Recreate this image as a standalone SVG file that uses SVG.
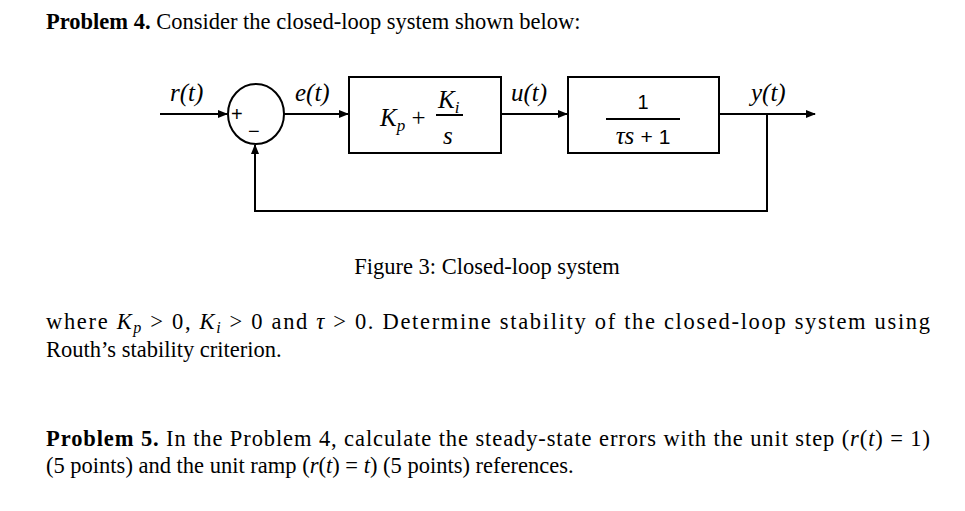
<svg xmlns="http://www.w3.org/2000/svg" width="965" height="511" viewBox="0 0 965 511">
<style>
.t{font-family:"Liberation Serif",serif;font-size:22.5px;fill:#000}
.b{font-weight:bold}
.m{font-family:"Liberation Serif",serif;font-style:italic;font-size:25px}
.n{font-family:"Liberation Sans",sans-serif;font-size:20px}
.ln{stroke:#000;stroke-width:2;fill:none}
</style>
<defs><marker id="a" markerWidth="10" markerHeight="8" refX="9" refY="4" orient="auto" markerUnits="userSpaceOnUse"><path d="M0,0L10,4L0,8z"/></marker></defs>
<rect width="965" height="511" fill="#fff"/>
<text class="t" x="46" y="29"><tspan class="b">Problem 4.</tspan> Consider the closed-loop system shown below:</text>
<g id="sum"><ellipse class="ln" cx="256" cy="114" rx="28" ry="30"/><text x="231" y="121" class="n" font-size="18">+</text><text x="248" y="138" class="n" font-size="18">−</text></g>
<g id="pi"><rect class="ln" x="349" y="77" width="152" height="76"/><text class="m" x="380" y="126">K<tspan font-size="17" dy="5">p</tspan><tspan dy="-5" font-style="normal"> +</tspan></text><text class="m" x="438" y="108">K<tspan font-size="17" dy="5">i</tspan></text><line class="ln" x1="436" y1="115" x2="463" y2="115" stroke-width="1.5"/><text class="m" x="443" y="144">s</text></g>
<g id="plant"><rect class="ln" x="568" y="77" width="151" height="76"/><text class="n" x="643" y="109" text-anchor="middle">1</text><line class="ln" x1="606" y1="119" x2="680" y2="119" stroke-width="1.5"/><text class="m" x="643" y="144" text-anchor="middle">τs <tspan font-style="normal" font-family="Liberation Sans" font-size="21">+ 1</tspan></text></g>
<g id="connectors">
<line class="ln" x1="160" y1="114" x2="227" y2="114" marker-end="url(#a)"/>
<line class="ln" x1="284" y1="114" x2="348" y2="114" marker-end="url(#a)"/>
<line class="ln" x1="501" y1="114" x2="567" y2="114" marker-end="url(#a)"/>
<line class="ln" x1="719" y1="114" x2="815" y2="114" marker-end="url(#a)"/>
<polyline class="ln" points="767,114 767,211 255,211 255,145" marker-end="url(#a)"/>
</g>
<g id="labels">
<text class="m" x="170" y="101">r(t)</text>
<text class="m" x="295" y="101">e(t)</text>
<text class="m" x="511" y="101">u(t)</text>
<text class="m" x="751" y="101">y(t)</text>
</g>
<text class="t" x="487" y="274" text-anchor="middle">Figure 3: Closed-loop system</text>
<text class="t" x="46" y="329" textLength="884" lengthAdjust="spacing">where <tspan font-style="italic">K<tspan font-size="16" dy="4">p</tspan></tspan><tspan dy="-4"> &gt; 0, </tspan><tspan font-style="italic">K<tspan font-size="16" dy="4">i</tspan></tspan><tspan dy="-4"> &gt; 0 and </tspan><tspan font-style="italic">τ</tspan> &gt; 0. Determine stability of the closed-loop system using</text>
<text class="t" x="46" y="357">Routh’s stability criterion.</text>
<text class="t" x="46" y="446" textLength="884" lengthAdjust="spacing"><tspan class="b">Problem 5.</tspan> In the Problem 4, calculate the steady-state errors with the unit step (<tspan font-style="italic">r</tspan>(<tspan font-style="italic">t</tspan>) = 1)</text>
<text class="t" x="46" y="473">(5 points) and the unit ramp (<tspan font-style="italic">r</tspan>(<tspan font-style="italic">t</tspan>) = <tspan font-style="italic">t</tspan>) (5 points) references.</text>
</svg>
